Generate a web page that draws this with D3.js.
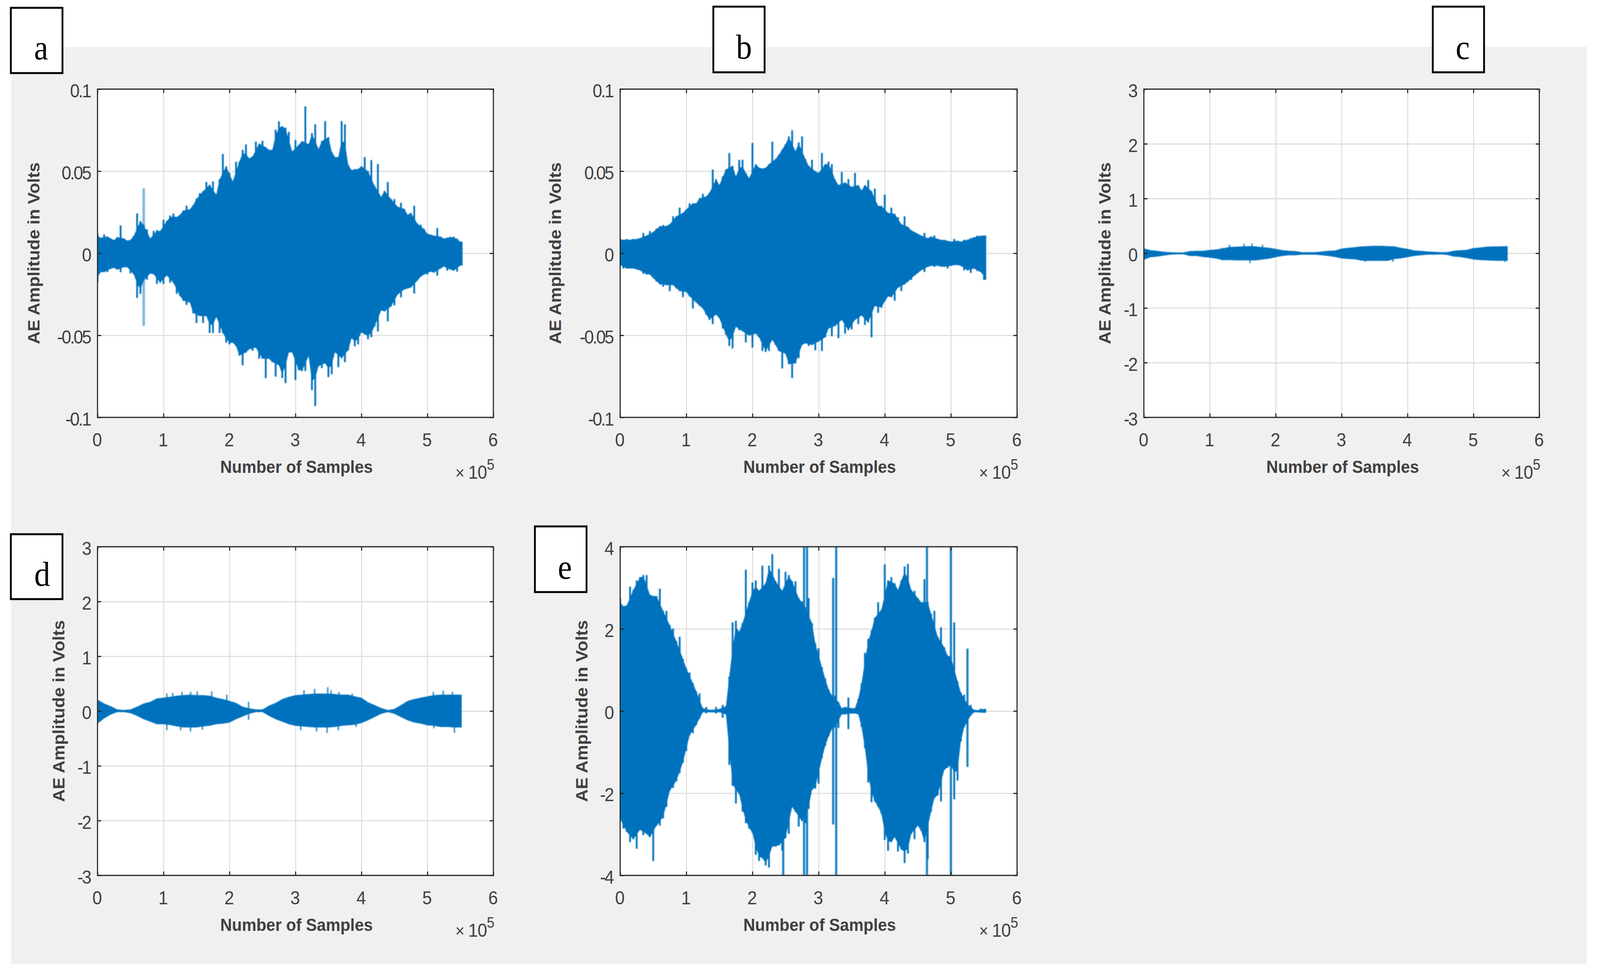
<!DOCTYPE html>
<html>
<head>
<meta charset="utf-8">
<script src="https://cdnjs.cloudflare.com/ajax/libs/d3/7.8.5/d3.min.js"></script>
<style>
  html, body { margin: 0; padding: 0; background: #fff; overflow: hidden; }
  svg { display: block; }
</style>
</head>
<body>
<svg id="chart"></svg>
<script>
const size = { w: 4430, h: 2500 };

// x ticks are in units of 10^5 samples
const xTicks = [0, 1, 2, 3, 4, 5, 6];
const ticksSmall = [-0.1, -0.05, 0, 0.05, 0.1];
const ticksThree = [-3, -2, -1, 0, 1, 2, 3];
const ticksFour = [-4, -2, 0, 2, 4];
const panelLetters = ['a', 'b', 'c', 'd', 'e'];
const xLabel = 'Number of Samples';
const yLabel = 'AE Amplitude in Volts';
const signalEnd = 5.52;

// envelopes read every 0.05 x 10^5 samples (one row = 0.5 x 10^5)
const aUpper = [
  .012, .0094, .0115, .0102, .009, .008, .0098, .017, .009, .0077,
  .0081, .0106, .0242, .0196, .0174, .0145, .009, .0136, .0141, .0136,
  .0204, .0196, .023, .0242, .022, .0234, .026, .029, .0268, .0293,
  .0332, .0366, .0378, .0434, .0417, .0438, .0357, .045, .0604, .053,
  .049, .0438, .0557, .0557, .063, .0663, .0578, .059, .068, .0667,
  .0685, .0646, .063, .063, .0753, .0804, .0774, .0765, .074, .062,
  .069, .066, .0683, .0895, .0665, .0732, .0786, .0635, .0683, .0805,
  .0707, .0617, .0586, .0586, .0805, .0786, .0538, .0507, .0513, .0513,
  .053, .0586, .05, .0568, .041, .0544, .0343, .038, .0434, .033,
  .033, .0283, .0307, .027, .0234, .0246, .0289, .018, .0174, .0149,
  .0119, .0113, .0107, .0153, .0101, .0089, .0095, .01, .0101, .0089,
  .007
];
const aLower = [
  -.0179, -.0115, -.0115, -.0115, -.0094, -.0089, -.01, -.0115, -.0085, -.0085,
  -.0123, -.0128, -.0272, -.0247, -.0166, -.0162, -.0123, -.0128, -.0187, -.0179,
  -.0187, -.0136, -.0179, -.0179, -.0247, -.026, -.029, -.0315, -.03, -.0366,
  -.0425, -.0383, -.0425, -.0383, -.0486, -.0486, -.0388, -.0486, -.0486, -.0545,
  -.0555, -.0545, -.0565, -.0624, -.0683, -.0604, -.0585, -.0594, -.0575, -.0643,
  -.0643, -.0761, -.0643, -.0663, -.0752, -.0683, -.0761, -.0791, -.0604, -.0604,
  -.0773, -.0712, -.0718, -.0718, -.0627, -.0834, -.0931, -.0688, -.07, -.067,
  -.0755, -.0737, -.0603, -.0694, -.064, -.0664, -.0591, -.0518, -.0567, -.0555,
  -.0482, -.0494, -.0524, -.0512, -.0445, -.0476, -.0348, -.0354, -.0415, -.0324,
  -.0318, -.0251, -.0269, -.0221, -.0215, -.0209, -.0245, -.0166, -.0142, -.013,
  -.013, -.0112, -.0118, -.0136, -.0093, -.0081, -.0106, -.01, -.0106, -.0112,
  -.0075
];
const aSpikeX = [.7];
const aSpikeTop = [.0395];
const aSpikeBottom = [-.0442];

const bUpper = [
  .0087, .0082, .0087, .0082, .0087, .0087, .0092, .0124, .0108, .0135,
  .0129, .015, .0166, .0172, .0166, .0177, .0225, .0225, .0278, .0246,
  .0267, .0304, .0304, .0304, .0336, .0362, .0346, .0368, .0511, .0452,
  .0415, .0468, .0511, .0611, .0532, .0468, .0569, .0569, .0489, .0458,
  .0672, .0542, .0521, .0516, .0521, .0542, .068, .0574, .06, .0632,
  .0664, .0712, .0749, .0622, .0675, .0712, .0574, .0532, .0569, .05,
  .0489, .0611, .0542, .0558, .0542, .0447, .0415, .0495, .0431, .0452,
  .0405, .0489, .0415, .0383, .0415, .0447, .0378, .0394, .0288, .0288,
  .0357, .0246, .0278, .024, .0219, .0177, .0225, .0161, .014, .0129,
  .0119, .0108, .0124, .0092, .0103, .0108, .0087, .0082, .0082, .0076,
  .0071, .0087, .0076, .0071, .0082, .0082, .0092, .0097, .0108, .0106,
  .0108
];
const bLower = [
  -.0072, -.0093, -.0093, -.0093, -.0093, -.0099, -.0104, -.0125, -.013, -.013,
  -.0151, -.0173, -.0189, -.0204, -.0194, -.0231, -.0194, -.0215, -.0231, -.0268,
  -.0236, -.0263, -.0337, -.03, -.0321, -.0337, -.0374, -.0406, -.0432, -.0374,
  -.0395, -.0459, -.0496, -.0565, -.058, -.0448, -.0469, -.0475, -.0543, -.0501,
  -.0575, -.049, -.0512, -.0596, -.0602, -.0596, -.0528, -.0559, -.0596, -.0702,
  -.0612, -.0676, -.0761, -.0671, -.0639, -.0559, -.0549, -.0565, -.0559, -.0591,
  -.0538, -.0596, -.0512, -.0459, -.0506, -.0443, -.0517, -.0406, -.049, -.0469,
  -.0464, -.0406, -.0432, -.0379, -.0437, -.0422, -.0512, -.0321, -.0363, -.0332,
  -.0294, -.0263, -.0268, -.0289, -.021, -.0231, -.0189, -.0173, -.0162, -.0136,
  -.012, -.0104, -.0114, -.0083, -.0077, -.0083, -.0077, -.0083, -.0083, -.0093,
  -.0077, -.0072, -.0072, -.0077, -.0104, -.0104, -.012, -.0093, -.0109, -.0114,
  -.0162
];
const bSpikeX = [];
const bSpikeTop = [];
const bSpikeBottom = [];

// c and d: body of the signal every 0.1 x 10^5 samples, the peaks listed apart
const cUpper = [
  .09, .057, .045, .026, .02, .014, .014, .04, .045, .045,
  .06, .07, .09, .115, .12, .125, .13, .125, .11, .1,
  .08, .057, .045, .04, .02, .02, .02, .033, .045, .05,
  .085, .1, .11, .125, .13, .135, .135, .13, .125, .1,
  .081, .052, .045, .033, .026, .02, .02, .045, .055, .062,
  .095, .105, .12, .125, .125, .13
];
const cLower = [
  -.12, -.074, -.062, -.043, -.026, -.019, -.019, -.05, -.05, -.07,
  -.08, -.1, -.125, -.125, -.13, -.13, -.13, -.13, -.115, -.1,
  -.074, -.05, -.038, -.038, -.026, -.026, -.026, -.038, -.05, -.07,
  -.095, -.105, -.11, -.135, -.14, -.14, -.14, -.14, -.105, -.095,
  -.074, -.05, -.038, -.026, -.026, -.022, -.03, -.06, -.07, -.09,
  -.115, -.125, -.13, -.135, -.14, -.14
];
const cSpikeX = [1.19, 1.3, 1.52, 1.61, 1.64, 1.8, 3.36, 3.78, 5.48];
const cSpikeTop = [.1, .157, .17, .1, .18, .157, .1, .1, .1];
const cSpikeBottom = [-.133, -.1, -.1, -.18, -.1, -.1, -.157, -.157, -.16];

const dUpper = [
  .21, .14, .09, .03, .02, .03, .08, .14, .17, .23,
  .245, .26, .28, .29, .3, .29, .29, .28, .245, .22,
  .185, .15, .08, .05, .03, .03, .1, .15, .22, .26,
  .29, .3, .31, .32, .32, .32, .31, .3, .3, .27,
  .245, .16, .11, .055, .02, .04, .11, .185, .22, .245,
  .27, .29, .3, .3, .3, .3
];
const dLower = [
  -.23, -.135, -.065, -.02, -.02, -.04, -.09, -.15, -.195, -.24,
  -.24, -.255, -.28, -.3, -.3, -.3, -.28, -.27, -.24, -.23,
  -.21, -.15, -.1, -.05, -.02, -.02, -.09, -.15, -.195, -.24,
  -.27, -.28, -.29, -.3, -.3, -.3, -.29, -.27, -.26, -.25,
  -.22, -.17, -.11, -.05, -.02, -.05, -.11, -.17, -.21, -.23,
  -.26, -.27, -.29, -.29, -.3, -.3
];
const dSpikeX = [1.05, 1.14, 1.26, 1.28, 1.41, 1.51, 1.59, 1.73, 1.96, 2.29, 3.08, 3.13, 3.29, 3.32, 3.48, 3.49, 3.54, 3.65, 3.66, 3.86, 3.92, 5.09, 5.1, 5.24, 5.38, 5.41];
const dSpikeTop = [.32, .33, .2, .35, .35, .36, .2, .36, .3, .17, .2, .38, .405, .2, .2, .435, .38, .2, .35, .32, .2, .35, .2, .375, .35, .2];
const dSpikeBottom = [-.35, -.2, -.35, -.2, -.375, -.2, -.34, -.2, -.2, -.16, -.35, -.2, -.2, -.375, -.4, -.2, -.2, -.35, -.2, -.2, -.29, -.2, -.315, -.2, -.2, -.4];

const eUpper = [
  2.75, 2.55, 2.57, 3.03, 2.95, 3.18, 3.26, 3.31, 3.31, 2.83,
  2.8, 2.8, 2.98, 2.44, 2.44, 2.09, 2.01, 1.7, 1.81, 1.27,
  1.04, .94, .68, .48, .43, .07, .1, .03, .03, .1,
  .05, .15, .12, .84, 2.16, 2.2, 1.93, 2.14, 3.44, 2.65,
  3.13, 3.18, 2.93, 3.54, 3.11, 3.54, 3.82, 3.16, 3.46, 2.93,
  3.39, 3.31, 3.16, 3.16, 2.75, 2.67, 2.52, 2.75, 2.14, 1.65,
  1.53, 1.07, .79, .53, .38, .38, .22, .07, .1, .33,
  .07, .07, .3, .68, 1.42, 1.76, 1.96, 2.27, 2.65, 2.47,
  3.57, 3.18, 3.26, 3.11, 2.95, 3.18, 3.52, 3.58, 2.95, 2.93,
  2.75, 2.65, 3.21, 2.65, 2.37, 2.44, 1.81, 2.04, 1.55, 1.35,
  1.32, 2.16, .73, .45, .4, .17, .15, .03, .02, .06,
  .05
];
const eLower = [
  -2.63, -2.86, -2.94, -3.19, -3.12, -3.35, -2.89, -3.02, -2.99, -3.07,
  -3.65, -2.79, -2.79, -2.61, -2.33, -1.94, -1.87, -1.71, -1.51, -1.26,
  -.97, -.59, -.54, -.34, -.18, -.03, -.06, -.03, -.03, -.06,
  -.03, -.16, -.08, -1.31, -1.82, -2.25, -2.02, -2.45, -2.73, -2.86,
  -2.96, -3.5, -3.65, -3.58, -3.76, -3.81, -3.3, -3.3, -3.27, -3.4,
  -3.09, -2.99, -2.33, -2.45, -2.81, -2.68, -2.73, -2.38, -1.92, -1.89,
  -1.77, -1.15, -.85, -.62, -.44, -.39, -.41, -.08, -.08, -.44,
  -.06, -.06, -.08, -.39, -.9, -1.74, -2.22, -2.2, -2.33, -2.5,
  -3.14, -3.4, -3.19, -3.07, -3.42, -3.37, -3.7, -3.47, -2.99, -3.12,
  -2.79, -2.91, -3.19, -3.6, -2.45, -2.12, -2.05, -2.2, -1.43, -1.38,
  -1.31, -2.15, -1.69, -.74, -.39, -.34, -.11, -.03, -.03, -.04,
  -.04
];
const eSpikeX = [2.465, 2.78, 2.825, 3.22, 3.266, 4.638, 5.0, 5.25];
const eSpikeTop = [0, 4, 4, 3.24, 4, 4, 4, 1.52];
const eSpikeBottom = [-4, -4, -4, -2.76, -4, -4, -4, -1.36];

// layout of the page, not data
const panelBox = {
  a: { l: 270, r: 1366, t: 228, b: 1068, labelX: 109 },
  b: { l: 1717, r: 2816, t: 228, b: 1068, labelX: 1553 },
  c: { l: 3167, r: 4262, t: 228, b: 1068, labelX: 3075 },
  d: { l: 270, r: 1366, t: 1399, b: 2240, labelX: 178 },
  e: { l: 1717, r: 2816, t: 1399, b: 2240, labelX: 1627 }
};
const letterBox = {
  a: { x0: 30, x1: 173, y0: 20, y1: 187, tx: 114, ty: 152 },
  b: { x0: 1975, x1: 2117, y0: 17, y1: 185, tx: 2060, ty: 150 },
  c: { x0: 3967, x1: 4109, y0: 17, y1: 185, tx: 4050, ty: 151 },
  d: { x0: 30, x1: 173, y0: 1367, y1: 1533, tx: 117, ty: 1499 },
  e: { x0: 1481, x1: 1624, y0: 1347, y1: 1515, tx: 1564, ty: 1481 }
};
const lineBlue = '#0072bd';
const darkText = '#404040';
const axisDark = '#262626';
const gridGrey = '#dfdfdf';
const sansFont = '"Liberation Sans", Arial, sans-serif';

const panels = [
  { id: 'a', yDomain: [-.1, .1], yTicks: ticksSmall, upper: aUpper, lower: aLower, step: .05, teeth: true, spikeX: aSpikeX, spikeTop: aSpikeTop, spikeBottom: aSpikeBottom, spikeOpacity: .5, spikeWidth: 7 },
  { id: 'b', yDomain: [-.1, .1], yTicks: ticksSmall, upper: bUpper, lower: bLower, step: .05, teeth: true, spikeX: bSpikeX, spikeTop: bSpikeTop, spikeBottom: bSpikeBottom, spikeOpacity: .5, spikeWidth: 7 },
  { id: 'c', yDomain: [-3, 3], yTicks: ticksThree, upper: cUpper, lower: cLower, step: .1, teeth: false, spikeX: cSpikeX, spikeTop: cSpikeTop, spikeBottom: cSpikeBottom, spikeOpacity: .8, spikeWidth: 4 },
  { id: 'd', yDomain: [-3, 3], yTicks: ticksThree, upper: dUpper, lower: dLower, step: .1, teeth: false, spikeX: dSpikeX, spikeTop: dSpikeTop, spikeBottom: dSpikeBottom, spikeOpacity: .8, spikeWidth: 4 },
  { id: 'e', yDomain: [-4, 4], yTicks: ticksFour, upper: eUpper, lower: eLower, step: .05, teeth: true, spikeX: eSpikeX, spikeTop: eSpikeTop, spikeBottom: eSpikeBottom, spikeOpacity: .9, spikeWidth: 6 }
];

// the sandbox window can be narrower than asked for, so fit the drawing to it
const svg = d3.select('svg#chart')
  .attr('viewBox', `0 0 ${size.w} ${size.h}`)
  .attr('width', window.innerWidth)
  .attr('height', window.innerHeight)
  .attr('preserveAspectRatio', 'none');

svg.append('defs')
  .append('filter')
  .attr('id', 'soft')
  .append('feGaussianBlur')
  .attr('stdDeviation', .9);

svg.append('rect')
  .attr('width', size.w)
  .attr('height', size.h)
  .attr('fill', '#fff');

// grey figure background
svg.append('rect')
  .attr('x', 31)
  .attr('y', 120)
  .attr('width', 4362)
  .attr('height', 2347)
  .attr('fill', '#f0f0f0');

panels.forEach(drawPanel);
panelLetters.forEach(drawLetter);

//FUNCTIONS
function drawPanel(p) {
  const box = panelBox[p.id];
  const w = box.r - box.l;
  const h = box.b - box.t;

  const x = d3.scaleLinear().domain([0, 6]).range([0, w]);
  const y = d3.scaleLinear().domain(p.yDomain).range([h, 0]);

  const g = svg.append('g')
    .attr('transform', `translate(${box.l}, ${box.t})`);

  g.append('rect')
    .attr('width', w)
    .attr('height', h)
    .attr('fill', '#fff');

  // grid first, the signal covers it
  const gridX = g.append('g')
    .attr('transform', `translate(0, ${h})`)
    .call(d3.axisBottom(x).tickValues(xTicks).tickSize(-h).tickFormat(''));
  const gridY = g.append('g')
    .call(d3.axisLeft(y).tickValues(p.yTicks).tickSize(-w).tickFormat(''));
  [gridX, gridY].forEach(a => {
    a.select('.domain').remove();
    a.selectAll('line').attr('stroke', gridGrey).attr('stroke-width', 3);
  });

  g.append('clipPath')
    .attr('id', `clip-${p.id}`)
    .append('rect')
    .attr('width', w)
    .attr('height', h);

  const signal = g.append('g')
    .attr('clip-path', `url(#clip-${p.id})`)
    .append('g')
    .attr('filter', 'url(#soft)');

  const points = p.upper.map((u, i) => ({ x: i * p.step, u: u, l: p.lower[i] }));
  const last = points[points.length - 1];
  points.push({ x: signalEnd, u: last.u, l: last.l });

  // the body stays under each sample that sticks out past its neighbours
  const body = points.map((d, i) => {
    if (!p.teeth) return d;
    const a = points[Math.max(i - 1, 0)];
    const b = points[Math.min(i + 1, points.length - 1)];
    return { x: d.x, u: Math.min(d.u, (a.u + b.u) / 2), l: Math.max(d.l, (a.l + b.l) / 2) };
  });

  const area = d3.area()
    .x(d => x(d.x))
    .y0(d => y(d.l))
    .y1(d => y(d.u));

  signal.append('path')
    .datum(body)
    .attr('d', area)
    .attr('fill', lineBlue);

  signal.selectAll('line.tooth')
    .data(p.teeth ? points : [])
    .join('line')
    .attr('class', 'tooth')
    .attr('x1', d => x(d.x))
    .attr('x2', d => x(d.x))
    .attr('y1', d => y(d.u))
    .attr('y2', d => y(d.l))
    .attr('stroke', lineBlue)
    .attr('stroke-width', 5);

  signal.selectAll('line.spike')
    .data(p.spikeX)
    .join('line')
    .attr('class', 'spike')
    .attr('x1', d => x(d))
    .attr('x2', d => x(d))
    .attr('y1', (d, i) => y(p.spikeTop[i]))
    .attr('y2', (d, i) => y(p.spikeBottom[i]))
    .attr('stroke', lineBlue)
    .attr('stroke-width', p.spikeWidth)
    .attr('stroke-opacity', p.spikeOpacity);

  // frame and the short inward ticks on all four sides
  g.append('rect')
    .attr('width', w)
    .attr('height', h)
    .attr('fill', 'none')
    .attr('stroke', axisDark)
    .attr('stroke-width', 3);

  const tickBottom = g.append('g')
    .attr('transform', `translate(0, ${h})`)
    .call(d3.axisBottom(x).tickValues(xTicks).tickSize(-10).tickPadding(40).tickFormat(d => d));
  const tickTop = g.append('g')
    .call(d3.axisTop(x).tickValues(xTicks).tickSize(-10).tickFormat(''));
  const tickLeft = g.append('g')
    .call(d3.axisLeft(y).tickValues(p.yTicks).tickSize(-10).tickPadding(20).tickFormat(d => String(d)));
  const tickRight = g.append('g')
    .attr('transform', `translate(${w}, 0)`)
    .call(d3.axisRight(y).tickValues(p.yTicks).tickSize(-10).tickFormat(''));

  [tickBottom, tickTop, tickLeft, tickRight].forEach(a => {
    a.select('.domain').remove();
    a.selectAll('line').attr('stroke', axisDark).attr('stroke-width', 3);
    a.selectAll('text')
      .attr('font-family', sansFont)
      .attr('font-size', 48)
      .attr('letter-spacing', -3.5)
      .attr('fill', darkText);
  });
  tickBottom.selectAll('text').attr('dx', -3);
  tickLeft.selectAll('text').attr('dy', '.42em');

  g.append('text')
    .attr('x', w / 2 + 3)
    .attr('y', h + 142)
    .attr('text-anchor', 'middle')
    .attr('font-family', sansFont)
    .attr('font-weight', 'bold')
    .attr('font-size', 45)
    .attr('fill', darkText)
    .text(xLabel);

  svg.append('text')
    .attr('transform', `translate(${box.labelX}, ${(box.t + box.b) / 2}) rotate(-90)`)
    .attr('text-anchor', 'middle')
    .attr('font-family', sansFont)
    .attr('font-weight', 'bold')
    .attr('font-size', 45)
    .attr('fill', darkText)
    .text(yLabel);

  // x10^5 exponent at the end of the x axis
  const exp = g.append('text')
    .attr('x', w + 2)
    .attr('y', h + 157)
    .attr('text-anchor', 'end')
    .attr('font-family', sansFont)
    .attr('font-size', 48)
    .attr('letter-spacing', -1)
    .attr('fill', darkText);
  exp.append('tspan').attr('font-size', 44).text('× ');
  exp.append('tspan').text('10');
  exp.append('tspan').attr('font-size', 38).attr('dy', -23).text('5');
}

function drawLetter(id) {
  const b = letterBox[id];
  svg.append('rect')
    .attr('x', b.x0)
    .attr('y', b.y0)
    .attr('width', b.x1 - b.x0)
    .attr('height', b.y1 - b.y0)
    .attr('fill', '#fff')
    .attr('stroke', '#000')
    .attr('stroke-width', 5);
  svg.append('text')
    .attr('x', b.tx)
    .attr('y', b.ty)
    .attr('text-anchor', 'middle')
    .attr('font-family', '"Liberation Serif", "DejaVu Serif", serif')
    .attr('font-size', 88)
    .attr('fill', '#000')
    .text(id);
}
</script>
</body>
</html>
